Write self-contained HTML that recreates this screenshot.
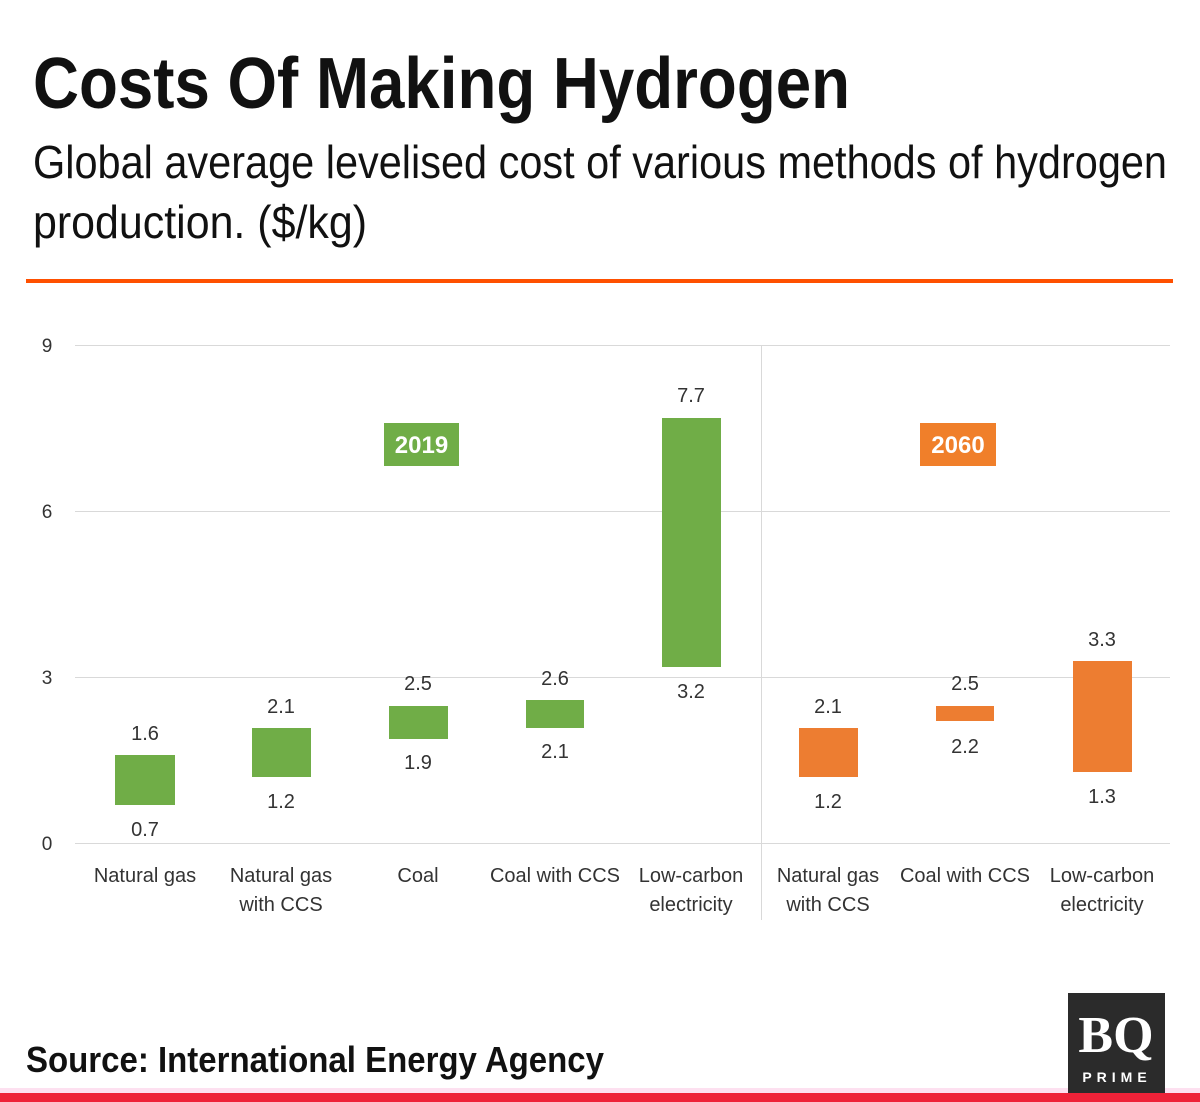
<!DOCTYPE html>
<html><head><meta charset="utf-8"><style>
body{margin:0;background:#fff;}
svg{display:block;}
text{font-family:"Liberation Sans",sans-serif;}
</style></head><body>
<svg width="1200" height="1102" viewBox="0 0 1200 1102" xmlns="http://www.w3.org/2000/svg">
<rect width="1200" height="1102" fill="#fff"/>
<text x="33" y="108" font-size="72" font-weight="bold" fill="#111" textLength="817" lengthAdjust="spacingAndGlyphs">Costs Of Making Hydrogen</text>
<text x="33" y="178" font-size="46" fill="#111" textLength="1134" lengthAdjust="spacingAndGlyphs">Global average levelised cost of various methods of hydrogen</text>
<text x="33" y="238" font-size="46" fill="#111" textLength="334" lengthAdjust="spacingAndGlyphs">production. ($/kg)</text>
<rect x="26" y="279" width="1147" height="4" fill="#ff5000"/>
<g stroke="#d9d9d9" stroke-width="1">
<line x1="75" y1="345.5" x2="1170" y2="345.5"/>
<line x1="75" y1="511.5" x2="1170" y2="511.5"/>
<line x1="75" y1="677.5" x2="1170" y2="677.5"/>
<line x1="75" y1="843.5" x2="1170" y2="843.5"/>
<line x1="761.5" y1="345" x2="761.5" y2="920"/>
</g>
<g font-size="19" fill="#333" text-anchor="middle">
<text x="47" y="352">9</text><text x="47" y="518">6</text><text x="47" y="684">3</text><text x="47" y="850">0</text>
</g>
<g fill="#70ad47">
<rect x="115" y="755" width="60" height="50"/>
<rect x="252" y="728" width="59" height="49"/>
<rect x="389" y="706" width="59" height="33"/>
<rect x="526" y="700" width="58" height="28"/>
<rect x="662" y="418" width="59" height="249"/>
</g>
<g fill="#ed7d31">
<rect x="799" y="728" width="59" height="49"/>
<rect x="936" y="706" width="58" height="15"/>
<rect x="1073" y="661" width="59" height="111"/>
</g>
<g font-size="20" fill="#333" text-anchor="middle">
<text x="145" y="740">1.6</text><text x="145" y="836">0.7</text>
<text x="281" y="713">2.1</text><text x="281" y="808">1.2</text>
<text x="418" y="690">2.5</text><text x="418" y="769">1.9</text>
<text x="555" y="685">2.6</text><text x="555" y="758">2.1</text>
<text x="691" y="402">7.7</text><text x="691" y="698">3.2</text>
<text x="828" y="713">2.1</text><text x="828" y="808">1.2</text>
<text x="965" y="690">2.5</text><text x="965" y="753">2.2</text>
<text x="1102" y="646">3.3</text><text x="1102" y="803">1.3</text>
</g>
<g font-size="20" fill="#333" text-anchor="middle">
<text x="145" y="882">Natural gas</text>
<text x="281" y="882">Natural gas</text><text x="281" y="911">with CCS</text>
<text x="418" y="882">Coal</text>
<text x="555" y="882">Coal with CCS</text>
<text x="691" y="882">Low-carbon</text><text x="691" y="911">electricity</text>
<text x="828" y="882">Natural gas</text><text x="828" y="911">with CCS</text>
<text x="965" y="882">Coal with CCS</text>
<text x="1102" y="882">Low-carbon</text><text x="1102" y="911">electricity</text>
</g>
<rect x="384" y="423" width="75" height="43" fill="#70ad47"/>
<text x="421.5" y="453" font-size="24" font-weight="bold" fill="#fff" text-anchor="middle">2019</text>
<rect x="920" y="423" width="76" height="43" fill="#f07f2a"/>
<text x="958" y="453" font-size="24" font-weight="bold" fill="#fff" text-anchor="middle">2060</text>
<text x="26" y="1072" font-size="36" fill="#111" font-weight="bold" textLength="578" lengthAdjust="spacingAndGlyphs">Source: International Energy Agency</text>
<rect x="0" y="1088" width="1200" height="5" fill="#fde0f0"/>
<rect x="0" y="1093" width="1200" height="9" fill="#ee2238"/>
<rect x="1068" y="993" width="97" height="100" fill="#2b2b2b"/>
<text x="1116" y="1052" font-size="52" font-weight="bold" fill="#fff" text-anchor="middle" font-family="Liberation Serif,serif" style="font-family:'Liberation Serif',serif">BQ</text>
<text x="1117" y="1082" font-size="14" font-weight="bold" fill="#fff" text-anchor="middle" letter-spacing="5">PRIME</text>
</svg>
</body></html>
